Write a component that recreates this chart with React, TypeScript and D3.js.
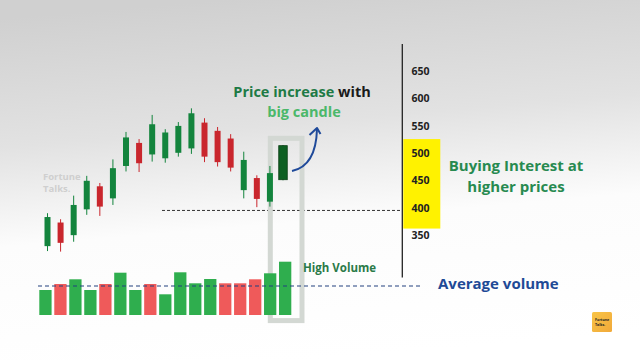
import React, { useEffect } from "react";
import * as d3 from "d3";

// ---- Data ----
const candleIdx = d3.range(19);
const opens = [331, 374, 351, 398, 440, 418, 477, 519, 498, 491, 501, 509, 556, 541, 527, 433, 455, 412, 452];
const closes = [384, 337, 406, 450, 403, 473, 529, 482, 553, 538, 550, 573, 494, 484, 474, 488, 417, 464, 514];
const highs = [391, 380, 423, 459, 446, 489, 539, 526, 570, 544, 557, 582, 564, 548, 535, 503, 460, 477, 515];
const lows = [322, 321, 339, 388, 386, 406, 467, 466, 485, 483, 494, 499, 484, 476, 467, 418, 402, 403, 451];

const volIdx = d3.range(17);
const volumes = [250, 310, 357, 250, 310, 423, 250, 310, 207, 427, 317, 360, 317, 317, 357, 417, 533];
const volUp = [true, false, true, true, false, true, true, false, true, true, true, true, false, false, false, true, true];
const avgVolume = 290;

const priceTicks = [350, 400, 450, 500, 550, 600, 650];
const supportLevel = 396;
const zoneLow = 363;
const zoneHigh = 526;

export default function App() {
  useEffect(() => {
    document.body.style.margin = "0";
  }, []);

  const W = 640, H = 360;
  const y = d3.scaleLinear().domain([350, 650]).range([235.7, 71]);
  const xc = d3.scalePoint<number>().domain(candleIdx).range([47.5, 283]);
  const xv = d3.scaleBand<number>().domain(volIdx).range([39.3, 291.3]).paddingInner(0.18);
  const yv = d3.scaleLinear().domain([0, 600]).range([315, 255]);

  const font = "'Open Sans', 'Noto Sans', sans-serif";
  const axisX = 402.3;

  const arrowPath = d3.path();
  arrowPath.moveTo(292, 171);
  arrowPath.quadraticCurveTo(316, 166, 317, 129);

  return (
    <svg width={W} height={H} style={{ display: "block" }} fontFamily={font}>
      <defs>
        <linearGradient id="bg" x1="0.35" y1="0" x2="0.5" y2="1">
          <stop offset="0" stopColor="#d0d0d0" />
          <stop offset="0.35" stopColor="#e2e2e2" />
          <stop offset="0.62" stopColor="#fcfcfc" />
          <stop offset="1" stopColor="#ffffff" />
        </linearGradient>
        <linearGradient id="logo" x1="0" y1="0" x2="1" y2="1">
          <stop offset="0" stopColor="#f8c446" />
          <stop offset="1" stopColor="#f1a93a" />
        </linearGradient>
      </defs>
      <rect x={0} y={0} width={W} height={H} fill="url(#bg)" />

      {/* watermark */}
      <text x={43} y={180} fontSize={9.5} fontWeight={700} fill="#cfcfcf">Fortune</text>
      <text x={43} y={192} fontSize={9.5} fontWeight={700} fill="#cfcfcf">Talks.</text>

      {/* yellow zone */}
      <rect x={axisX + 1} y={y(zoneHigh)} width={37} height={y(zoneLow) - y(zoneHigh)} fill="#fff200" />

      {/* axis */}
      <line x1={axisX} x2={axisX} y1={44} y2={277.5} stroke="#222" strokeWidth={1.3} />
      {priceTicks.map((t) => (
        <text key={t} x={411.5} y={y(t)} dy="0.35em" fontSize={10.5} fontWeight={700} fill="#222">{t}</text>
      ))}

      {/* support dashed line */}
      <line x1={162} x2={400} y1={y(supportLevel)} y2={y(supportLevel)} stroke="#333" strokeWidth={1} strokeDasharray="3,2" />

      {/* highlight box */}
      <rect x={270.3} y={138.3} width={31.7} height={182.3} fill="none" stroke="#d3d8d3" strokeWidth={5} />

      {/* volume bars */}
      {volIdx.map((i) => (
        <rect key={i} x={xv(i)} y={yv(volumes[i])} width={xv.bandwidth()} height={yv(0) - yv(volumes[i])}
          fill={volUp[i] ? "#2fae4e" : "#ef5a5a"} />
      ))}
      <line x1={38} x2={422} y1={yv(avgVolume)} y2={yv(avgVolume)} stroke="#22407f" strokeWidth={1.2} strokeDasharray="4,3" />

      {/* candles */}
      {candleIdx.map((i) => {
        const up = closes[i] >= opens[i];
        const big = i === candleIdx.length - 1;
        const w = big ? 8.5 : 6;
        const cx = xc(i) as number;
        const col = big ? "#0d5f22" : up ? "#13843d" : "#c9262d";
        const top = y(Math.max(opens[i], closes[i]));
        const bot = y(Math.min(opens[i], closes[i]));
        return (
          <g key={i}>
            <line x1={cx} x2={cx} y1={y(highs[i])} y2={y(lows[i])} stroke={col} strokeWidth={1} />
            <rect x={cx - w / 2} y={top} width={w} height={bot - top} fill={col}
              stroke={big ? "#0a3f15" : "none"} strokeWidth={big ? 0.8 : 0} />
          </g>
        );
      })}

      {/* arrow */}
      <path d={arrowPath.toString()} fill="none" stroke="#1f4a9a" strokeWidth={2} />
      <path d="M309.5,135 L317,128 L320.5,134" fill="none" stroke="#1f4a9a" strokeWidth={2} strokeLinejoin="round" />

      {/* annotations */}
      <text x={302} y={92} dy="0.35em" textAnchor="middle" fontSize={14.5} fontWeight={700}>
        <tspan fill="#1e7a45">Price increase </tspan>
        <tspan fill="#1a1a1a">with</tspan>
      </text>
      <text x={304} y={112} dy="0.35em" textAnchor="middle" fontSize={14.5} fontWeight={700} fill="#4bb86a">big candle</text>

      <text x={516} y={166} dy="0.35em" textAnchor="middle" fontSize={15} fontWeight={700} fill="#278a50">Buying Interest at</text>
      <text x={516} y={186.5} dy="0.35em" textAnchor="middle" fontSize={15} fontWeight={700} fill="#278a50">higher prices</text>

      <text x={303} y={268} dy="0.35em" fontSize={11.5} fontWeight={700} fill="#2a7a48">High Volume</text>
      <text x={438} y={284} dy="0.35em" fontSize={15} fontWeight={700} fill="#1f4a96">Average volume</text>

      {/* logo */}
      <rect x={592} y={312} width={20} height={20} rx={1.5} fill="url(#logo)" />
      <text x={595} y={321} fontSize={3.6} fontWeight={700} fill="#222">Fortune</text>
      <text x={595} y={325.5} fontSize={3.6} fontWeight={700} fill="#222">Talks.</text>
    </svg>
  );
}
